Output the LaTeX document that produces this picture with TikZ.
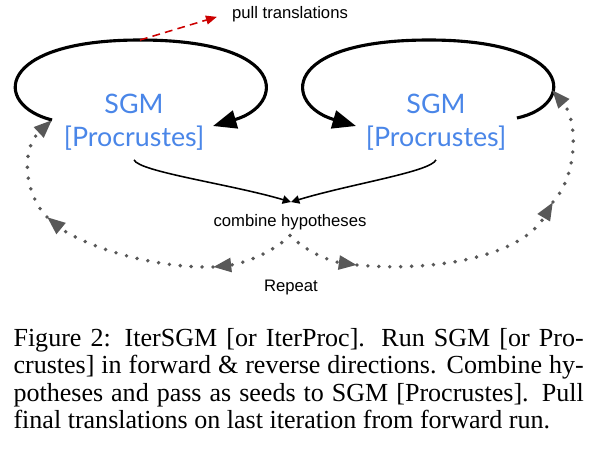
\documentclass[tikz,border=0pt]{standalone}
\usepackage{fontspec}
\setmainfont{Liberation Serif}
\newfontfamily\sgmfont{Lato}
\newfontfamily\labelfont{Liberation Sans}
\usepackage{tikz}
\usetikzlibrary{positioning,arrows.meta}
\usepackage{xcolor}
\definecolor{sgmblue}{RGB}{74,134,232}
\definecolor{dotgray}{RGB}{88,88,88}
\definecolor{pullred}{RGB}{204,0,0}
\tikzset{
	sgm/.style={text=sgmblue, font=\sgmfont\fontsize{10.3}{12.7}\selectfont, align=center, inner sep=3.5pt},
	label text/.style={font=\labelfont\fontsize{6.4}{8}\selectfont, inner sep=2pt},
	loop arrow/.style={line width=1.2pt, -{Triangle[length=9pt,width=7pt]}},
	hyp arrow/.style={line width=0.6pt, -{Triangle[length=3.2pt,width=3.2pt]}},
	repeat arrow/.style={dotgray, line width=1.5pt, line cap=round, dash pattern=on 0pt off 4.2pt, -{Triangle[length=7pt,width=5.2pt]}},
	pull arrow/.style={pullred, line width=0.6pt, dash pattern=on 3pt off 2pt, -{Triangle[length=4.2pt,width=3.4pt]}}
}
\begin{document}
\begin{tikzpicture}[x=0.384pt, y=-0.384pt]
		\useasboundingbox (0,0) rectangle (594,454);
		
		\node[sgm] (sgmL) at (134,122) {SGM\\{[Procrustes]}};
		\node[sgm] (sgmR) at (436,122) {SGM\\{[Procrustes]}};
		\node[label text] (pull) at (290,14) {pull translations};
		\node[label text] (combine) at (290,222) {combine hypotheses};
		\node[label text] (repeat) at (291,287) {Repeat};
		
		\coordinate (topL) at (140,40);
		\coordinate (loopL) at (52,120);
		\coordinate (loopR) at (517,118);
		\coordinate (meet) at (291,202);
		\coordinate (rL1) at (213,267);
		\coordinate (rL2) at (47,217);
		\coordinate (rR1) at (357,265);
		\coordinate (rR2) at (553,202);
		\coordinate (rR3) at (552,90);
		
		% forward and reverse runs
		\draw[loop arrow] (loopL) .. controls (-8,105) and (-5,40) .. (topL) .. controls (290,40) and (285,105) .. (213,126);
		\draw[loop arrow] (loopR) .. controls (577,105) and (574,40) .. (429,40) .. controls (279,40) and (284,105) .. (356,126);
		
		\draw[pull arrow, shorten >=3.8pt] (topL) -- (pull.west);
		
		\draw[hyp arrow] (sgmL.south) .. controls +(5,12) and (230,184) .. (meet);
		\draw[hyp arrow] (sgmR.south) .. controls +(-5,12) and (350,184) .. (meet);
		
		% repeat
		\draw[repeat arrow] (combine.south) .. controls (270,255) and (240,264) .. (rL1);
		\draw[repeat arrow] (rL1) .. controls (140,268) and (75,240) .. (rL2);
		\draw[repeat arrow] (rL2) .. controls (25,195) and (20,150) .. (loopL);
		\draw[repeat arrow] (combine.south) .. controls (310,255) and (335,262) .. (rR1);
		\draw[repeat arrow] (rR1) .. controls (430,272) and (520,258) .. (rR2);
		\draw[repeat arrow] (rR2) .. controls (578,175) and (578,120) .. (rR3);
		
		\node[anchor=north west, inner sep=0pt, text width=219pt, align=justify, font=\fontsize{10}{10.5}\selectfont] (caption) at (13,328) {\tolerance=10000 Figure 2: IterSGM [or IterProc]. Run SGM [or Pro-\linebreak crustes] in forward \& reverse directions. Combine hy-\linebreak potheses and pass as seeds to SGM [Procrustes]. Pull\linebreak final translations on last iteration from forward run.};
	\end{tikzpicture}
\end{document}
